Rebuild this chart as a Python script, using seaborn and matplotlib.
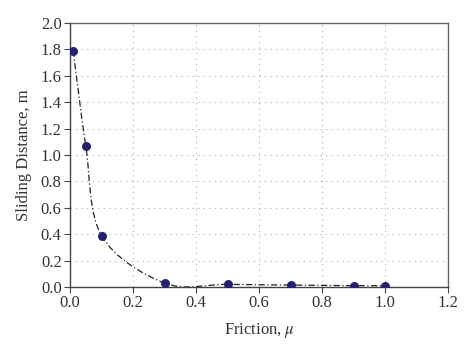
import matplotlib
matplotlib.use("Agg")
import matplotlib.pyplot as plt
import seaborn as sns
import numpy as np
import pandas as pd
from matplotlib.path import Path
from matplotlib.patches import PathPatch

friction = [0.01, 0.05, 0.1, 0.3, 0.5, 0.7, 0.9, 1.0]
distance = [1.79, 1.07, 0.39, 0.03, 0.02, 0.015, 0.01, 0.01]
x_ticks = [0.0, 0.2, 0.4, 0.6, 0.8, 1.0, 1.2]
y_ticks = [0.0, 0.2, 0.4, 0.6, 0.8, 1.0, 1.2, 1.4, 1.6, 1.8, 2.0]

sns.set_theme(style="white")
plt.rcParams['font.family'] = ['Liberation Serif', 'DejaVu Serif']
plt.rcParams['mathtext.fontset'] = 'stix'

df = pd.DataFrame({"Friction": friction, "Distance": distance})

fig = plt.figure(figsize=(4.74, 3.53), dpi=100)
ax = fig.add_axes([70/474, 1 - 287/353, (448-70)/474, (287-23)/353])

# smoothed (Bezier, Catmull-Rom style) dash-dot line through the data
pts = np.column_stack([friction, distance])
verts = [tuple(pts[0])]
codes = [Path.MOVETO]
n = len(pts)
for i in range(n - 1):
    p0 = pts[max(i - 1, 0)]
    p1 = pts[i]
    p2 = pts[i + 1]
    p3 = pts[min(i + 2, n - 1)]
    c1 = p1 + (p2 - p0) / 6.0
    c2 = p2 - (p3 - p1) / 6.0
    verts += [tuple(c1), tuple(c2), tuple(p2)]
    codes += [Path.CURVE4] * 3
patch = PathPatch(Path(verts, codes), facecolor='none', edgecolor='#222222',
                  lw=0.9, linestyle=(0, (5, 2, 1, 2)), zorder=2)
ax.add_patch(patch)

sns.scatterplot(data=df, x="Friction", y="Distance", ax=ax, color='#25216e',
                s=42, edgecolor='#25216e', linewidth=0, zorder=3)

ax.set_xlim(0, 1.2)
ax.set_ylim(0, 2.0)
ax.set_xticks(x_ticks)
ax.set_yticks(y_ticks)
ax.set_xticklabels([f"{v:.1f}" for v in x_ticks], fontsize=12, color='#333333')
ax.set_yticklabels([f"{v:.1f}" for v in y_ticks], fontsize=12, color='#333333')
ax.grid(True, linestyle=(0, (1, 4)), color='#aaaaaa', linewidth=0.8)
ax.tick_params(axis='both', direction='out', length=4, width=0.8, color='#444444',
               bottom=True, left=True, pad=2)
for s in ['left', 'bottom']:
    ax.spines[s].set_color('#444444')
    ax.spines[s].set_linewidth(1.0)
for s in ['top', 'right']:
    ax.spines[s].set_color('#666666')
    ax.spines[s].set_linewidth(1.0)

ax.set_xlabel(r"Friction, $\mu$", fontsize=12, color='#333333', labelpad=7)
ax.set_ylabel("Sliding Distance, m", fontsize=12, color='#333333', labelpad=6)

fig.savefig("out.png", dpi=100)
